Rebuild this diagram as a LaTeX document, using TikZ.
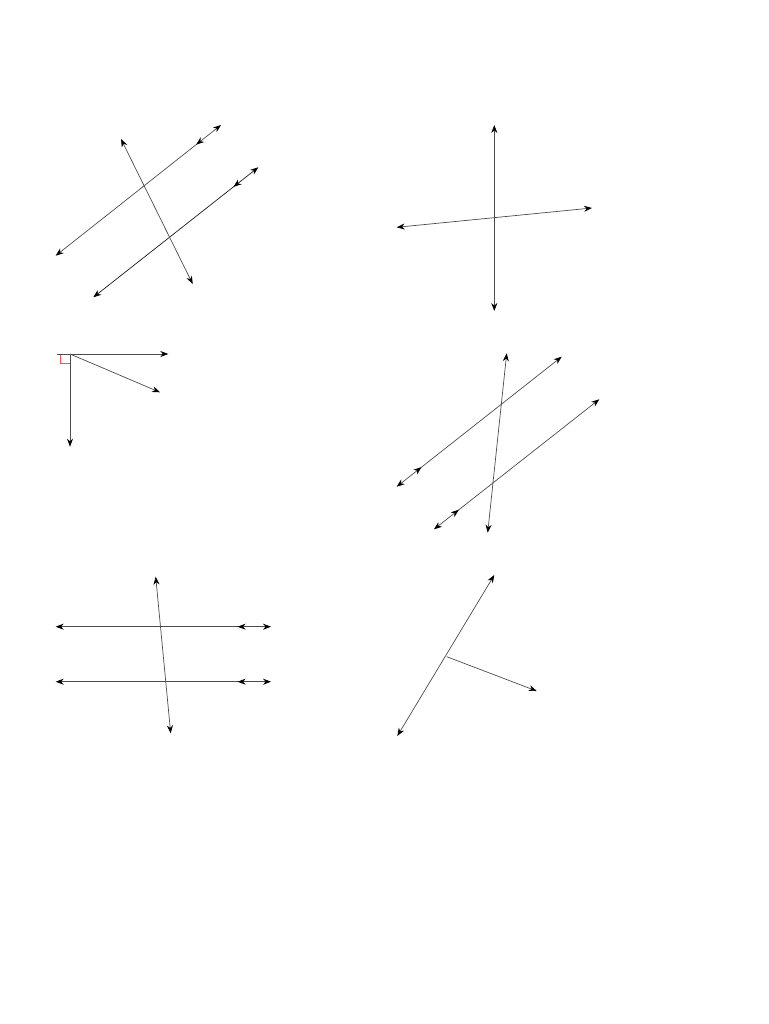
\documentclass[tikz,border=0pt]{standalone}
\usetikzlibrary{arrows.meta, decorations.markings}
\tikzset{
    line2/.style={draw=black!70, line width=0.7pt,
        {Stealth[length=8pt,width=6pt,color=black]}-{Stealth[length=8pt,width=6pt,color=black]}},
    ray/.style={draw=black!70, line width=0.7pt, -{Stealth[length=8pt,width=6pt,color=black]}},
    par tick/.style={
        decoration={markings, mark=at position #1 with {
            \arrow{Stealth[length=8pt,width=6pt,color=black]};
        }}, postaction={decorate}
    },
    par tick back/.style={
        decoration={markings, mark=at position #1 with {
            \arrowreversed{Stealth[length=8pt,width=6pt,color=black]};
        }}, postaction={decorate}
    }
}

\begin{document}
\begin{tikzpicture}[x=1pt, y=-1pt]

\useasboundingbox[fill=white] (0,0) rectangle (768,1024);

% Figura 1: dos paralelas y una transversal
\coordinate (A1) at (55.7, 255.7);
\coordinate (A2) at (221, 125);
\coordinate (B1) at (93.3, 297.3);
\coordinate (B2) at (258.3, 167.3);
\coordinate (T1) at (121, 139);
\coordinate (T2) at (192.7, 284);

\draw[line2, par tick back=0.85] (A1) -- (A2);
\draw[line2, par tick back=0.85, draw=black!90] (B1) -- (B2);
\draw[line2] (T1) -- (T2);

% Figura 2: rectas que se cortan
\coordinate (V1) at (494.3, 125);
\coordinate (V2) at (494.3, 311);
\coordinate (H1) at (396.7, 227.3);
\coordinate (H2) at (592, 208);

\draw[line2] (V1) -- (V2);
\draw[line2] (H1) -- (H2);

% Figura 3: rayos desde un vertice, con angulo recto
\coordinate (O) at (70, 354);
\coordinate (L) at (57, 354);
\coordinate (R) at (168.3, 354);
\coordinate (D) at (70, 446.7);
\coordinate (S) at (160, 392.3);

\draw[red!70, line width=0.7pt] (60.7, 354) -- (60.7, 363.3) -- (O |- 0, 363.3);
\draw[ray] (L) -- (R);
\draw[ray] (O) -- (D);
\draw[ray] (O) -- (S);

% Figura 4: paralelas con transversal
\coordinate (P1) at (396.7, 486.7);
\coordinate (P2) at (561.7, 356.7);
\coordinate (Q1) at (434, 529.3);
\coordinate (Q2) at (599.3, 399.3);
\coordinate (U1) at (506.7, 353.3);
\coordinate (U2) at (487.7, 532.7);

\draw[line2, par tick=0.15] (P1) -- (P2);
\draw[line2, par tick=0.15] (Q1) -- (Q2);
\draw[line2] (U1) -- (U2);

% Figura 5: horizontales paralelas y transversal
\coordinate (E1) at (55.7, 626.7);
\coordinate (E2) at (271, 626.7);
\coordinate (F1) at (55.7, 681.7);
\coordinate (F2) at (271, 681.7);
\coordinate (W1) at (155.7, 576.7);
\coordinate (W2) at (170.7, 733.3);

\draw[line2, par tick back=0.845] (E1) -- (E2);
\draw[line2, par tick back=0.845] (F1) -- (F2);
\draw[line2] (W1) -- (W2);

% Figura 6: recta y rayo
\coordinate (G1) at (397.3, 736);
\coordinate (G2) at (494.3, 575);
\coordinate (K) at (446.7, 656.7);
\coordinate (K2) at (536.7, 691);

\draw[line2] (G1) -- (G2);
\draw[ray] (K) -- (K2);

\end{tikzpicture}
\end{document}
